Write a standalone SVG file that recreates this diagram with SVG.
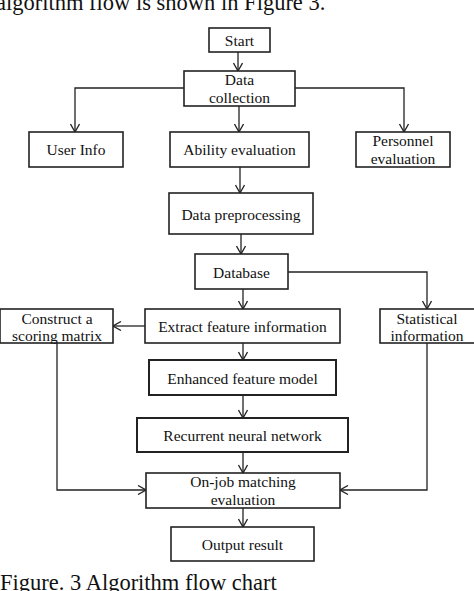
<svg xmlns="http://www.w3.org/2000/svg" width="474" height="591" viewBox="0 0 474 591">
<style>
.box{fill:#fff;stroke:#222;stroke-width:1.6}
.t{font-family:"Liberation Serif","Times New Roman",serif;font-size:15.5px;fill:#111;text-anchor:middle;dominant-baseline:central}
.cap{font-family:"Liberation Serif","Times New Roman",serif;font-size:22.5px;fill:#111}
.c{fill:none;stroke:#222;stroke-width:1.3}
</style>
<defs>
<marker id="a" markerWidth="10" markerHeight="10" refX="9" refY="5" orient="auto" markerUnits="userSpaceOnUse">
<path d="M1,0.5 L9,5 L1,9.5" fill="none" stroke="#222" stroke-width="1.3"/>
</marker>
</defs>
<rect width="474" height="591" fill="#fff"/>
<text class="cap" x="-4" y="10">algorithm flow is shown in Figure 3.</text>
<g id="connectors">
<path class="c" d="M238,52 V71" marker-end="url(#a)"/>
<path class="c" d="M184,88 H75 V132" marker-end="url(#a)"/>
<path class="c" d="M295,88 H404 V132" marker-end="url(#a)"/>
<path class="c" d="M239,106 V132" marker-end="url(#a)"/>
<path class="c" d="M240,167 V193" marker-end="url(#a)"/>
<path class="c" d="M241,234 V254" marker-end="url(#a)"/>
<path class="c" d="M288,272 H427 V309" marker-end="url(#a)"/>
<path class="c" d="M243,289 V309" marker-end="url(#a)"/>
<path class="c" d="M145,326 H113" marker-end="url(#a)"/>
<path class="c" d="M243,343 V360" marker-end="url(#a)"/>
<path class="c" d="M243,395 V418" marker-end="url(#a)"/>
<path class="c" d="M243,452 V473" marker-end="url(#a)"/>
<path class="c" d="M57,343 V490 H146" marker-end="url(#a)"/>
<path class="c" d="M427,343 V490 H340" marker-end="url(#a)"/>
<path class="c" d="M243,508 V527" marker-end="url(#a)"/>
</g>
<g id="start"><rect class="box" x="209" y="28" width="61" height="24"/><text class="t" x="239.5" y="40">Start</text></g>
<g id="data-collection"><rect class="box" x="184" y="71" width="111" height="35"/><text class="t" x="239.5" y="79">Data</text><text class="t" x="239.5" y="97">collection</text></g>
<g id="user-info"><rect class="box" x="29" y="132" width="94" height="35"/><text class="t" x="76" y="149.5">User Info</text></g>
<g id="ability-evaluation"><rect class="box" x="170" y="132" width="139" height="35"/><text class="t" x="239.5" y="149.5">Ability evaluation</text></g>
<g id="personnel-evaluation"><rect class="box" x="356" y="132" width="94" height="35"/><text class="t" x="403" y="140.5">Personnel</text><text class="t" x="403" y="158.5">evaluation</text></g>
<g id="data-preprocessing"><rect class="box" x="169" y="193" width="144" height="41"/><text class="t" x="241" y="214">Data preprocessing</text></g>
<g id="database"><rect class="box" x="195" y="254" width="93" height="35"/><text class="t" x="241.5" y="272">Database</text></g>
<g id="construct-scoring-matrix"><rect class="box" x="0" y="309" width="113" height="34"/><text class="t" x="57" y="318">Construct a</text><text class="t" x="57" y="335">scoring matrix</text></g>
<g id="extract-feature-information"><rect class="box" x="145" y="309" width="195" height="34"/><text class="t" x="242.5" y="326">Extract feature information</text></g>
<g id="statistical-information"><rect class="box" x="380" y="309" width="100" height="34"/><text class="t" x="427" y="318">Statistical</text><text class="t" x="427" y="335">information</text></g>
<g id="enhanced-feature-model"><rect class="box" x="149" y="360" width="187" height="35" style="stroke-width:2"/><text class="t" x="242.5" y="378">Enhanced feature model</text></g>
<g id="recurrent-neural-network"><rect class="box" x="137" y="418" width="211" height="34" style="stroke-width:2"/><text class="t" x="242.5" y="435">Recurrent neural network</text></g>
<g id="on-job-matching-evaluation"><rect class="box" x="146" y="473" width="194" height="35"/><text class="t" x="243" y="481.5">On-job matching</text><text class="t" x="243" y="499.5">evaluation</text></g>
<g id="output-result"><rect class="box" x="171" y="527" width="143" height="34"/><text class="t" x="242.5" y="544">Output result</text></g>
<text class="cap" x="0" y="590">Figure. 3 Algorithm flow chart</text>
</svg>
